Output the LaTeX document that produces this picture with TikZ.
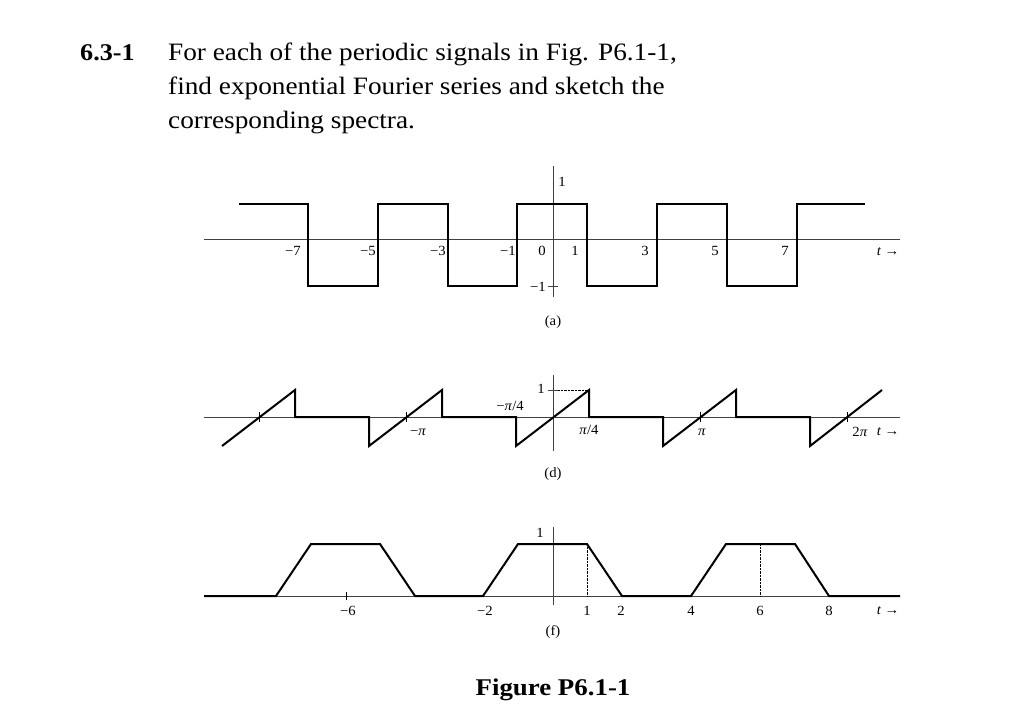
\documentclass[tikz,border=0pt]{standalone}
\usepackage{fontspec}
\setmainfont{Liberation Serif}
\begin{document}
\begin{tikzpicture}[x=1pt,y=-1pt,
  ax/.style={line width=0.9pt,black!75},
  sig/.style={line width=2pt,line join=miter},
  lb/.style={font=\fontsize{14}{14}\selectfont,inner sep=0pt,xscale=1.05},
  big/.style={font=\fontsize{25}{30}\selectfont,inner sep=0pt,anchor=base west,xscale=1.09}]
\useasboundingbox (0,0) rectangle (1024,707);
\node[big,font=\fontsize{24}{30}\selectfont\bfseries] (num) at (80,60) {6.3-1};
\node[big] (l1) at (168,60) {For each of the periodic signals in Fig. P6.1-1,};
\node[big] (l2) at (168,94) {find exponential Fourier series and sketch the};
\node[big] (l3) at (168,128) {corresponding spectra.};
% (a)
\draw[ax] (204,239) -- (900,239);
\draw[ax] (553,166) -- (553,297);
\draw[ax] (548,286) -- (558,286);
\draw[sig] (239,204) -- (308,204) -- (308,286) -- (378,286) -- (378,204) -- (448,204) -- (448,286) -- (517,286) -- (517,204) -- (587,204) -- (587,286) -- (657,286) -- (657,204) -- (727,204) -- (727,286) -- (797,286) -- (797,204) -- (865,204);
\foreach \x/\t in {293/−7,368/−5,438/−3,508/−1,542/0,575/1,645/3,715/5,785/7}
  \node[lb] at (\x,251) {\t};
\node[lb] (a1) at (562,182) {1};
\node[lb] (am1) at (538,287) {−1};
\node[lb] (ta) at (888,252) {\itshape t →};
\node[lb] (capa) at (553,322) {(a)};
% (d)
\draw[ax] (204,417) -- (900,417);
\draw[ax] (553,375) -- (553,451);
\draw[ax] (548,390) -- (558,390);
\draw[densely dotted,thin] (558,390) -- (588,390);
\foreach \c in {259,406,700,847} \draw[thin] (\c,412) -- (\c,422);
\draw[sig] (222,446) -- (295,390) -- (295,417) -- (369,417) -- (369,446) -- (442,390) -- (442,417) -- (516,417) -- (516,446) -- (589,390) -- (589,417) -- (663,417) -- (663,446) -- (736,390) -- (736,417) -- (810,417) -- (810,446) -- (882,390);
\node[lb] (d1) at (541,389) {1};
\node[lb] (dm4) at (510,406) {−\textit{π}/4};
\node[lb] (dp4) at (589,430) {\textit{π}/4};
\node[lb] (dmp) at (418,432) {−\textit{π}};
\node[lb] (dpp) at (702,432) {\textit{π}};
\node[lb] (d2p) at (860,432) {2\textit{π}};
\node[lb] (td) at (888,432) {\itshape t →};
\node[lb] (capd) at (553,474) {(d)};
% (f)
\draw[ax] (204,596) -- (900,596);
\draw[ax] (553,527) -- (553,605);
\draw[thin] (346,592) -- (346,600);
\draw[densely dotted,thin] (587,544) -- (587,596);
\draw[densely dotted,thin] (760,544) -- (760,596);
\draw[sig] (204,596) -- (276,596) -- (311,544) -- (380,544) -- (415,596) -- (483,596) -- (518,544) -- (587,544) -- (622,596) -- (691,596) -- (726,544) -- (795,544) -- (829,596) -- (900,596);
\foreach \x/\t in {348/−6,485/−2,587/1,621/2,691/4,760/6,829/8}
  \node[lb] at (\x,611) {\t};
\node[lb] (f1) at (540,533) {1};
\node[lb] (tf) at (888,611) {\itshape t →};
\node[lb] (capf) at (553,632) {(f)};
\node[font=\fontsize{24}{24}\selectfont\bfseries,inner sep=0pt,xscale=1.12] (fig) at (553,690) {Figure P6.1-1};
\end{tikzpicture}
\end{document}
